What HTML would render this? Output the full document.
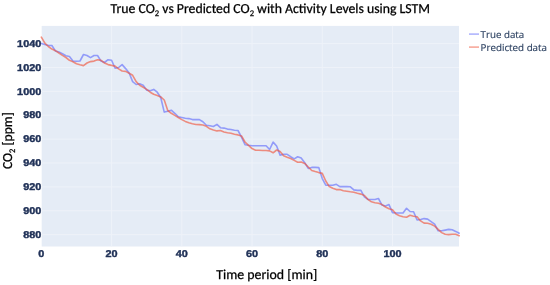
<!DOCTYPE html>
<html><head><meta charset="utf-8">
<style>
html,body{margin:0;padding:0;background:#fff;width:550px;height:285px;overflow:hidden}
svg{display:block;text-rendering:geometricPrecision}
.tick{font-family:"Liberation Sans",Arial,sans-serif;font-weight:700;font-size:9.9px;fill:#213258;stroke:#213258;stroke-width:0.4px}
.ttl{font-family:Carlito,"Liberation Sans",sans-serif;fill:#000;stroke:#000;stroke-width:0.25px}
.leg{font-family:"Open Sans","Liberation Sans",sans-serif;font-size:9.6px;font-weight:400;fill:#2a3f5f;stroke:#2a3f5f;stroke-width:0.15px}
</style></head>
<body>
<svg width="550" height="285" viewBox="0 0 550 285">
<rect x="0" y="0" width="550" height="285" fill="#fff"/>
<rect x="41.7" y="25.9" width="417.30" height="220.60" fill="#e5ecf6"/>
<g stroke="#eef2f9" stroke-width="1" fill="none">
<line x1="111.58" y1="25.9" x2="111.58" y2="246.5"/>
<line x1="181.81" y1="25.9" x2="181.81" y2="246.5"/>
<line x1="252.04" y1="25.9" x2="252.04" y2="246.5"/>
<line x1="322.27" y1="25.9" x2="322.27" y2="246.5"/>
<line x1="392.50" y1="25.9" x2="392.50" y2="246.5"/>
<line x1="41.7" y1="234.64" x2="459.0" y2="234.64"/>
<line x1="41.7" y1="210.76" x2="459.0" y2="210.76"/>
<line x1="41.7" y1="186.88" x2="459.0" y2="186.88"/>
<line x1="41.7" y1="163.00" x2="459.0" y2="163.00"/>
<line x1="41.7" y1="139.12" x2="459.0" y2="139.12"/>
<line x1="41.7" y1="115.24" x2="459.0" y2="115.24"/>
<line x1="41.7" y1="91.36" x2="459.0" y2="91.36"/>
<line x1="41.7" y1="67.48" x2="459.0" y2="67.48"/>
<line x1="41.7" y1="43.60" x2="459.0" y2="43.60"/>
</g>
<g fill="none" stroke-linejoin="round" stroke-linecap="round" stroke-width="1.6" stroke-opacity="0.64">
<polyline stroke="#636efa" points="41.35,43.40 44.86,44.60 48.37,45.50 51.88,45.50 55.40,50.90 58.91,51.90 62.42,53.70 65.93,55.80 69.44,56.50 72.95,61.00 76.47,61.30 79.98,61.00 83.49,54.50 87.00,55.50 90.51,57.60 94.02,55.50 97.53,55.50 101.05,61.10 104.56,62.50 108.07,59.70 111.58,60.20 115.09,68.20 118.60,67.50 122.11,64.60 125.63,68.60 129.14,73.00 132.65,81.60 136.16,84.50 139.67,83.80 143.18,85.20 146.69,90.10 150.21,90.80 153.72,89.40 157.23,92.20 160.74,97.50 164.25,112.10 167.76,111.20 171.28,110.20 174.79,113.30 178.30,116.80 181.81,117.50 185.32,118.20 188.83,118.60 192.34,119.60 195.86,119.60 199.37,119.60 202.88,121.80 206.39,125.30 209.90,125.80 213.41,126.50 216.92,124.40 220.44,127.70 223.95,128.10 227.46,129.10 230.97,129.50 234.48,130.20 237.99,130.50 241.51,137.10 245.02,144.70 248.53,145.30 252.04,145.80 255.55,145.80 259.06,145.80 262.57,145.80 266.09,145.80 269.60,149.50 273.11,142.10 276.62,146.00 280.13,155.10 283.64,154.30 287.15,154.30 290.67,156.70 294.18,158.90 297.69,156.70 301.20,158.10 304.71,162.70 308.22,168.40 311.74,167.40 315.25,167.40 318.76,167.60 322.27,178.60 325.78,185.20 329.29,185.20 332.80,185.20 336.32,184.30 339.83,186.60 343.34,186.60 346.85,186.60 350.36,186.80 353.87,189.90 357.38,190.40 360.90,190.40 364.41,196.90 367.92,199.40 371.43,199.50 374.94,199.50 378.45,198.50 381.97,205.10 385.48,206.00 388.99,204.60 392.50,212.60 396.01,213.00 399.52,213.00 403.03,213.00 406.55,208.30 410.06,211.50 413.57,211.80 417.08,220.00 420.59,219.50 424.10,218.60 427.62,219.10 431.13,221.60 434.64,224.20 438.15,230.80 441.66,230.80 445.17,230.10 448.68,229.40 452.20,229.80 455.71,231.40 459.22,233.20"/>
<polyline stroke="#ef553b" points="41.35,37.10 44.86,43.20 48.37,46.50 51.88,49.10 55.40,50.70 58.91,53.00 62.42,55.40 65.93,57.50 69.44,60.30 72.95,61.70 76.47,63.80 79.98,64.80 83.49,65.60 87.00,63.00 90.51,61.60 94.02,61.10 97.53,59.70 101.05,60.40 104.56,63.00 108.07,64.60 111.58,65.40 115.09,66.10 118.60,68.90 122.11,71.00 125.63,71.40 129.14,73.20 132.65,75.30 136.16,81.60 139.67,85.20 143.18,87.30 146.69,89.40 150.21,92.20 153.72,94.30 157.23,95.40 160.74,96.90 164.25,100.00 167.76,110.50 171.28,113.30 174.79,115.40 178.30,117.50 181.81,119.60 185.32,121.40 188.83,122.80 192.34,123.80 195.86,124.50 199.37,124.60 202.88,125.00 206.39,126.30 209.90,128.80 213.41,130.00 216.92,130.90 220.44,130.50 223.95,131.90 227.46,132.80 230.97,133.30 234.48,134.20 237.99,134.90 241.51,136.00 245.02,142.00 248.53,145.30 252.04,148.60 255.55,150.20 259.06,150.20 262.57,150.50 266.09,150.50 269.60,150.90 273.11,152.80 276.62,150.00 280.13,151.60 283.64,155.80 287.15,157.20 290.67,158.50 294.18,160.40 297.69,162.30 301.20,162.00 304.71,163.40 308.22,167.00 311.74,170.50 315.25,171.60 318.76,172.60 322.27,173.40 325.78,181.00 329.29,186.60 332.80,188.20 336.32,189.60 339.83,189.60 343.34,190.80 346.85,191.30 350.36,191.80 353.87,192.20 357.38,193.20 360.90,194.10 364.41,195.50 367.92,199.40 371.43,201.80 374.94,202.70 378.45,203.20 381.97,204.60 385.48,207.00 388.99,208.80 392.50,209.80 396.01,214.00 399.52,215.80 403.03,216.80 406.55,217.30 410.06,215.30 413.57,216.30 417.08,216.70 420.59,220.90 424.10,223.10 427.62,223.30 431.13,224.20 434.64,226.10 438.15,229.40 441.66,232.60 445.17,234.30 448.68,234.60 452.20,234.30 455.71,234.30 459.22,235.70"/>
</g>
<g class="tick">
<text x="23.15" y="237.84" textLength="18.15" lengthAdjust="spacingAndGlyphs">880</text>
<text x="23.15" y="213.96" textLength="18.15" lengthAdjust="spacingAndGlyphs">900</text>
<text x="23.15" y="190.08" textLength="18.15" lengthAdjust="spacingAndGlyphs">920</text>
<text x="23.15" y="166.20" textLength="18.15" lengthAdjust="spacingAndGlyphs">940</text>
<text x="23.15" y="142.32" textLength="18.15" lengthAdjust="spacingAndGlyphs">960</text>
<text x="23.15" y="118.44" textLength="18.15" lengthAdjust="spacingAndGlyphs">980</text>
<text x="17.10" y="94.56" textLength="24.20" lengthAdjust="spacingAndGlyphs">1000</text>
<text x="17.10" y="70.68" textLength="24.20" lengthAdjust="spacingAndGlyphs">1020</text>
<text x="17.10" y="46.80" textLength="24.20" lengthAdjust="spacingAndGlyphs">1040</text>
<text x="38.33" y="256.7" textLength="6.05" lengthAdjust="spacingAndGlyphs">0</text>
<text x="105.53" y="256.7" textLength="12.10" lengthAdjust="spacingAndGlyphs">20</text>
<text x="175.76" y="256.7" textLength="12.10" lengthAdjust="spacingAndGlyphs">40</text>
<text x="245.99" y="256.7" textLength="12.10" lengthAdjust="spacingAndGlyphs">60</text>
<text x="316.22" y="256.7" textLength="12.10" lengthAdjust="spacingAndGlyphs">80</text>
<text x="383.43" y="256.7" textLength="18.15" lengthAdjust="spacingAndGlyphs">100</text>
</g>
<text class="ttl" x="110.6" y="12.6" font-size="13.8" textLength="319.5" lengthAdjust="spacingAndGlyphs">True CO<tspan font-size="8.6" dy="2.9">2</tspan><tspan dy="-2.9"> vs Predicted CO</tspan><tspan font-size="8.6" dy="2.9">2</tspan><tspan dy="-2.9"> with Activity Levels using LSTM</tspan></text>
<text class="ttl" x="216.3" y="278.6" font-size="13.8" textLength="101" lengthAdjust="spacingAndGlyphs">Time period [min]</text>
<text class="ttl" transform="translate(12.2,169.0) rotate(-90)" font-size="13.8" textLength="56.8" lengthAdjust="spacingAndGlyphs">CO<tspan font-size="8.6" dy="2.6">2</tspan><tspan dy="-2.6"> [ppm]</tspan></text>
<g stroke-width="1.5" fill="none" stroke-opacity="0.55">
<line x1="469" y1="34.1" x2="479" y2="34.1" stroke="#636efa"/>
<line x1="469" y1="47.1" x2="479" y2="47.1" stroke="#ef553b"/>
</g>
<text class="leg" x="480.6" y="37.6" textLength="43.6" lengthAdjust="spacingAndGlyphs">True data</text>
<text class="leg" x="480.6" y="50.7" textLength="66.4" lengthAdjust="spacingAndGlyphs">Predicted data</text>
</svg>
</body></html>
